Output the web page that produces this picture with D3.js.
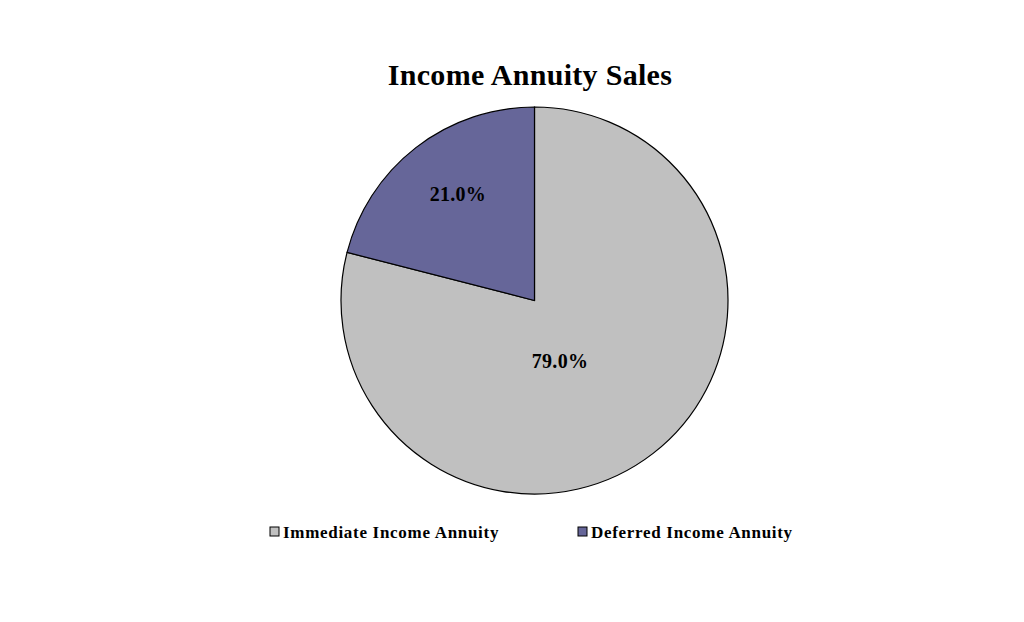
<!DOCTYPE html>
<html><head><meta charset="utf-8">
<script src="https://cdn.jsdelivr.net/npm/d3@7"></script>
<style>html,body{margin:0;padding:0;background:#fff;}</style>
</head><body>
<svg id="chart" width="1024" height="622"></svg>
<script>
const categories = ["Immediate Income Annuity", "Deferred Income Annuity"];
const values = [79.0, 21.0];
const colors = ["#C0C0C0", "#666699"];
const labelRadiusFactor = [0.344, 0.674];
const labelAngleShift = [0.267, 0.032];

const svg = d3.select("#chart");
const cx = 534.5, cy = 300.5, r = 193.5;
const font = "'Liberation Serif','Times New Roman',serif";

svg.append("text").attr("x", 530).attr("y", 85).attr("text-anchor", "middle")
  .attr("font-family", font).attr("font-weight", "bold").attr("font-size", 30)
  .attr("letter-spacing", 0.3)
  .text("Income Annuity Sales");

const pie = d3.pie().sort(null).value(d => d)(values);
const arc = d3.arc().innerRadius(0).outerRadius(r);
const g = svg.append("g").attr("transform", `translate(${cx},${cy})`);
g.selectAll("path").data(pie).join("path")
  .attr("d", arc).attr("fill", (d, i) => colors[i])
  .attr("stroke", "#000").attr("stroke-width", 1.2);

g.selectAll("text.lbl").data(pie).join("text").attr("class", "lbl")
  .attr("transform", (d, i) => {
    const a = (d.startAngle + d.endAngle) / 2 + labelAngleShift[i];
    const rr = r * labelRadiusFactor[i];
    return `translate(${Math.sin(a) * rr},${-Math.cos(a) * rr})`;
  })
  .attr("text-anchor", "middle").attr("dy", "0.3em")
  .attr("font-family", font).attr("font-weight", "bold").attr("font-size", 20)
  .attr("letter-spacing", 0.3)
  .text(d => d.value.toFixed(1) + "%");

const legendX = [270, 578];
const lg = svg.selectAll("g.leg").data(categories).join("g").attr("class", "leg")
  .attr("transform", (d, i) => `translate(${legendX[i]},527)`);
lg.append("rect").attr("width", 9).attr("height", 9)
  .attr("fill", (d, i) => colors[i]).attr("stroke", "#000").attr("stroke-width", 1);
lg.append("text").attr("x", 13).attr("y", 10.5)
  .attr("font-family", font).attr("font-weight", "bold").attr("font-size", 17)
  .attr("letter-spacing", 0.7)
  .text(d => d);
</script>
</body></html>
